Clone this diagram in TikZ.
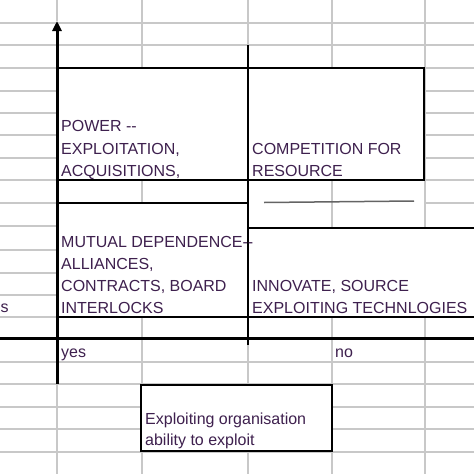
\documentclass[tikz,border=0pt]{standalone}
\usepackage{fontspec}
\setmainfont{Liberation Sans}
\usetikzlibrary{arrows.meta}
\definecolor{txt}{RGB}{62,32,78}
\definecolor{cellgrid}{RGB}{200,200,200}
\definecolor{stray}{RGB}{100,100,100}

\begin{document}
\begin{tikzpicture}[x=1pt,y=-1pt,
  cell/.style={cellgrid,line width=1.2pt},
  edge/.style={black,line width=2pt},
  axis/.style={black,line width=3pt},
  lbl/.style={anchor=base west,inner sep=0pt,text=txt,font=\fontsize{16}{16}\selectfont}]
\useasboundingbox (0,0) rectangle (474,474);
\fill[white] (0,0) rectangle (474,474);

% spreadsheet cells
\draw[cell] (0,23)--(474,23) (0,45)--(474,45) (0,362)--(474,362) (0,384)--(474,384) (0,452)--(474,452);
\draw[cell] (0,407)--(141,407) (332,407)--(474,407) (0,429)--(141,429) (332,429)--(474,429);
\draw[cell] (0,68)--(57,68) (0,91)--(57,91) (0,113)--(57,113) (0,135)--(57,135) (0,158)--(57,158) (0,180)--(57,180);
\draw[cell] (424,68)--(474,68) (424,91)--(474,91) (424,113)--(474,113) (424,135)--(474,135) (424,158)--(474,158) (424,180)--(474,180);
\draw[cell] (0,203)--(57,203) (424,203)--(474,203) (0,226)--(57,226) (0,250)--(57,250) (0,273)--(57,273) (0,295)--(57,295) (0,317)--(57,317);
\draw[cell] (57,0)--(57,21) (57,384)--(57,474);
\draw[cell] (142,0)--(142,68) (142,180)--(142,203) (142,317)--(142,474);
\draw[cell] (248,0)--(248,45) (248,345)--(248,474);
\draw[cell] (332,0)--(332,68) (332,180)--(332,228) (332,317)--(332,474);
\draw[cell] (425,0)--(425,228) (425,317)--(425,474);

% axes
\coordinate (o) at (57,384);
\coordinate (top) at (57,21);
\coordinate (left) at (0,338);
\coordinate (right) at (474,338);
\draw[axis,-{Triangle[length=10pt,width=9pt]}] (o)--(top);
\draw[axis] (left)--(right);

% boxes
\draw[edge] (57,68) rectangle (424,180);
\draw[edge] (248,45)--(248,345);
\draw[edge] (57,203)--(248,203);
\draw[edge] (248,228)--(474,228);
\draw[edge] (57,317)--(474,317);
\draw[stray,line width=1.5pt] (264,202.5)--(414,201);
\draw[black,line width=1.6pt,fill=white] (141,385) rectangle (332,451);

% labels
\node[lbl] (pow1) at (61,131.5) {POWER -{}-};
\node[lbl] (pow2) at (61,154) {EXPLOITATION,};
\node[lbl] (pow3) at (61,176) {ACQUISITIONS,};
\node[lbl] (comp1) at (252,154) {COMPETITION FOR};
\node[lbl] (comp2) at (252,176) {RESOURCE};
\node[lbl] (mut1) at (61,247.5) {MUTUAL DEPENDENCE-{}-};
\node[lbl] (mut2) at (61,269.5) {ALLIANCES,};
\node[lbl] (mut3) at (61,291.5) {CONTRACTS, BOARD};
\node[lbl] (mut4) at (61,313) {INTERLOCKS};
\node[lbl] (inn1) at (252,291.5) {INNOVATE, SOURCE};
\node[lbl] (inn2) at (252,313) {EXPLOITING TECHNLOGIES};
\node[lbl] (cut) at (0.5,312) {s};
\node[lbl] (yes) at (61,357) {yes};
\node[lbl] (no) at (335,357) {no};
\node[lbl] (exp1) at (145,424) {Exploiting organisation};
\node[lbl] (exp2) at (145,445.5) {ability to exploit};
\end{tikzpicture}
\end{document}
